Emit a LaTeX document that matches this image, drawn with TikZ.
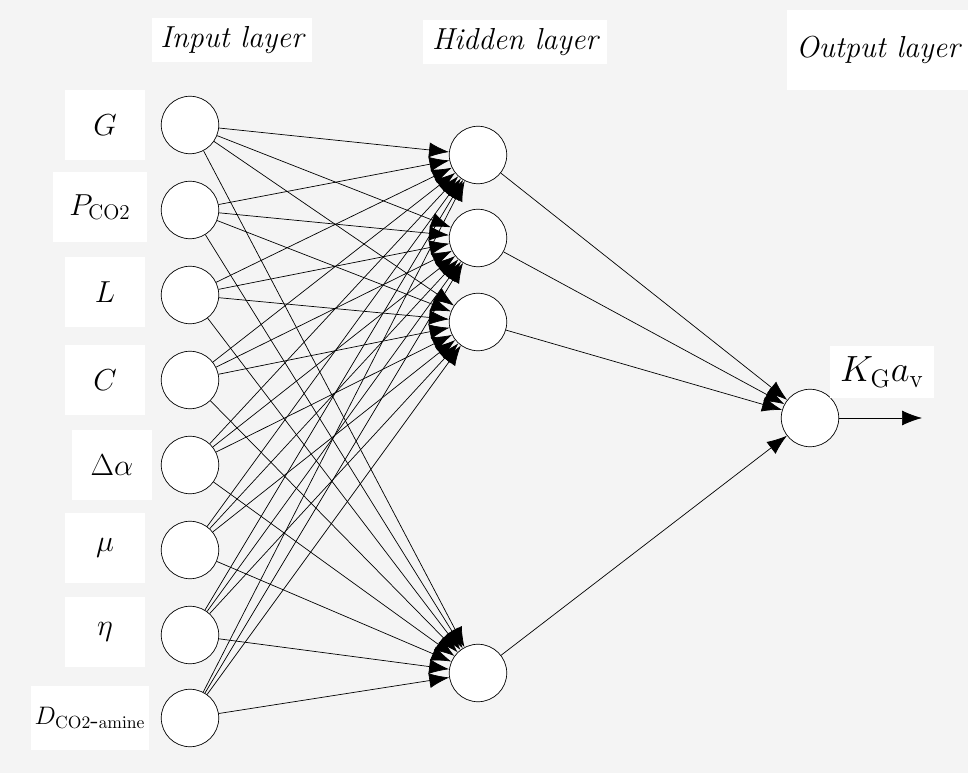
\documentclass[tikz,border=0pt]{standalone}
\usetikzlibrary{arrows.meta}
\begin{document}
\begin{tikzpicture}[x=0.02cm,y=-0.02cm,
    neuron/.style={circle,draw,thin,fill=white,minimum size=1.15cm,inner sep=0pt},
    lab/.style={fill=white,inner sep=4pt,font=\LARGE},
    head/.style={font=\LARGE\itshape,fill=white,inner sep=5pt},
    conn/.style={-{Latex[length=4mm,width=3mm]},thin}]
\useasboundingbox (0,0) rectangle (968,773);
\fill[gray!9] (0,0) rectangle (968,773);

\node[head] (tin) at (232,40) {Input layer};
\node[head] (thid) at (515,42) {Hidden layer};
\node[head,minimum height=1.6cm] (tout) at (878,50) {Output layer};

% input layer
\foreach \i/\y in {1/125,2/210,3/295,4/380,5/465,6/550,7/635,8/718}
    \node[neuron] (in\i) at (190,\y) {};

\node[lab,minimum width=1.6cm,minimum height=1.4cm] (lG) at (105,125) {$G$};
\node[lab,minimum width=1.9cm,minimum height=1.4cm] (lP) at (100,207) {$P_{\mathrm{CO2}}$};
\node[lab,minimum width=1.6cm,minimum height=1.4cm] (lL) at (105,292) {$L$};
\node[lab,minimum width=1.6cm,minimum height=1.4cm] (lC) at (105,380) {$C$};
\node[lab,minimum width=1.6cm,minimum height=1.4cm] (la) at (112,465) {$\Delta\alpha$};
\node[lab,minimum width=1.6cm,minimum height=1.4cm] (lm) at (105,548) {$\mu$};
\node[lab,minimum width=1.6cm,minimum height=1.4cm] (le) at (105,632) {$\eta$};
\node[lab,font=\Large,minimum height=1.3cm,inner sep=2pt] (lD) at (90,718) {$D_{\mathrm{CO2\mbox{-}amine}}$};

% hidden layer
\foreach \j/\y in {1/155,2/238,3/322,4/673}
    \node[neuron] (h\j) at (478,\y) {};

% output layer
\node[neuron] (out) at (810,418) {};
\coordinate (end) at (922,418);
\node[font=\huge,fill=white,inner sep=6pt] (lK) at (882,372) {$K_{\mathrm{G}}a_{\mathrm{v}}$};

\foreach \i in {1,...,8}
  \foreach \j in {1,...,4}
    \draw[conn] (in\i) -- (h\j);
\foreach \j in {1,...,4}
    \draw[conn] (h\j) -- (out);
\draw[conn] (out) -- (end);
\end{tikzpicture}
\end{document}
